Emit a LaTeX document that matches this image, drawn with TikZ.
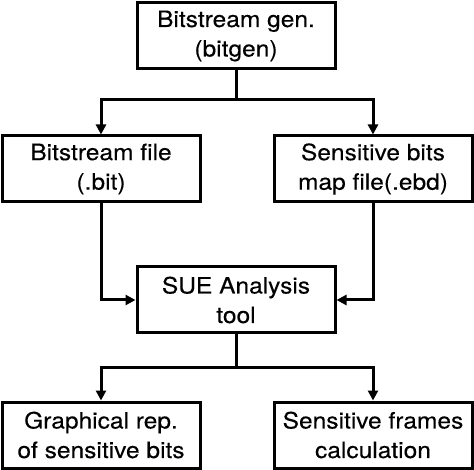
\documentclass[tikz,border=0pt]{standalone}
\usepackage{fontspec}
\setmainfont[FakeStretch=1.09, FakeBold=0.2]{TeX Gyre Heros}
\usetikzlibrary{arrows.meta}

\begin{document}
\begin{tikzpicture}[x=1pt, y=-1pt,
    box/.style={draw, line width=3pt, minimum width=198pt, minimum height=66pt,
        align=center, inner sep=0pt, font=\fontsize{22.5}{29.5}\selectfont},
    flow/.style={line width=3pt, -{Triangle[length=10pt, width=10pt]}}]
    \useasboundingbox (0,0) rectangle (474,470);
    % boxes
    \node[box] (gen) at (236,36) {Bitstream gen.\\(bitgen)};
    \node[box] (bit) at (101,169) {Bitstream file\\(.bit)};
    \node[box] (ebd) at (373,169) {Sensitive bits\\map file(.ebd)};
    \node[box] (sue) at (236,300) {SUE Analysis\\tool};
    \node[box] (rep) at (101,435) {Graphical rep.\\of sensitive bits};
    \node[box] (frames) at (373,435) {Sensitive frames\\calculation};
    % split points
    \coordinate (upper split) at (236,100);
    \coordinate (lower split) at (236,367);
    % connectors
    \draw[line width=3pt] (gen.south) -- (upper split);
    \draw[flow] (upper split) -| (bit.north);
    \draw[flow] (upper split) -| (ebd.north);
    \draw[flow] (bit.south) |- (sue.west);
    \draw[flow] (ebd.south) |- (sue.east);
    \draw[line width=3pt] (sue.south) -- (lower split);
    \draw[flow] (lower split) -| (rep.north);
    \draw[flow] (lower split) -| (frames.north);
\end{tikzpicture}
\end{document}
